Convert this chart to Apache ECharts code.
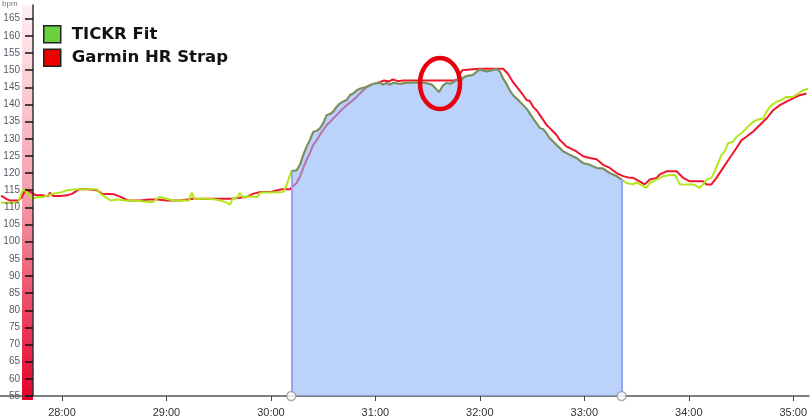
<!DOCTYPE html>
<html>
<head>
<meta charset="utf-8">
<script src="https://cdn.jsdelivr.net/npm/echarts@6/dist/echarts.min.js"></script>
<style>
  html, body { margin: 0; padding: 0; background: #fff; }
  #hr-chart { width: 810px; height: 418px; }
</style>
</head>
<body>
<div id="hr-chart"></div>
<script>
// time in seconds (27:24 .. 35:09), heart rate in bpm
var tickrFit = [
    [1645, 111.4], [1650, 111.3], [1655, 111.5], [1657, 114.5], [1658, 115.3], [1660, 114.3],
    [1663, 112.5], [1666, 113], [1669, 113], [1672, 113.5], [1675, 114], [1679, 114.3],
    [1683, 115], [1687, 115.2], [1690, 115.3], [1695, 115.3], [1700, 115.3], [1702, 114],
    [1705, 113], [1708, 112], [1712, 112.3], [1716, 112], [1721, 112], [1726, 111.8],
    [1732, 111.5], [1736, 113], [1740, 112.5], [1744, 112], [1748, 112], [1753, 112],
    [1754.5, 114.3], [1756, 112.5], [1760, 112.5], [1765, 112.5], [1768, 112.3], [1771, 112],
    [1774, 111.5], [1776.5, 110.8], [1778, 112.5], [1781, 113], [1782, 114.2], [1784, 113],
    [1788, 113.2], [1792, 113], [1794, 114.3], [1800, 114.3], [1807, 114.5], [1809, 116.5],
    [1811.7, 120.5], [1812.8, 121], [1814.8, 120.8], [1816.7, 122.4], [1818.6, 125.3],
    [1820.5, 127.7], [1822.4, 129.6], [1824.3, 132], [1826.3, 132.3], [1828.1, 133],
    [1830, 134.5], [1832, 136.9], [1833.9, 137.2], [1835.8, 137.9], [1837.7, 139.3],
    [1839.6, 140.3], [1841.5, 140.8], [1843.5, 141.3], [1845.4, 142.7], [1847.3, 143.2],
    [1849.2, 144.1], [1851.1, 144.6], [1855, 145.1], [1856.9, 145.6], [1858.8, 146],
    [1862.6, 146.3], [1864.5, 145.8], [1866.4, 146.3], [1868.3, 145.8], [1870.2, 146.3],
    [1874, 146], [1878, 146.3], [1882, 146.4], [1886, 146.5], [1889.4, 146.2], [1892.3, 145.8],
    [1894, 145], [1896.6, 143.6], [1898.9, 145.6], [1901, 146.3], [1903, 146], [1904.7, 146.5],
    [1907, 147.2], [1909, 146.8], [1910.5, 147.8], [1912.4, 148.3], [1916, 148.6], [1918, 149.5],
    [1920, 150.2], [1923.9, 149.6], [1925.8, 149.8], [1929.6, 150.3], [1931.5, 149.6],
    [1933.4, 147.5], [1935.3, 146], [1937.2, 144.1], [1939.1, 142.7], [1942, 141.3],
    [1944.9, 139.8], [1946.8, 138.8], [1948.7, 137.4], [1950.6, 135.9], [1952.6, 134.5],
    [1954.5, 133.1], [1956.4, 132.8], [1958.3, 131.6], [1960.2, 130.1], [1962.1, 129.2],
    [1964.1, 128.2], [1967.9, 126.3], [1971.7, 125.3], [1975.5, 124.4], [1979.3, 122.9],
    [1983.2, 122.4], [1987, 121.5], [1990.8, 121.3], [1994.7, 120], [1998.5, 119.1],
    [2001.4, 118.1], [2004.2, 117.1], [2008, 116.7], [2010, 117.3], [2013.8, 116.2],
    [2015.7, 115.7], [2017.6, 117.1], [2021.5, 118.1], [2023.4, 118.6], [2025.3, 119.1],
    [2029.1, 119.4], [2032, 119.4], [2033, 118.6], [2034.9, 116.7], [2038.7, 116.7],
    [2042.5, 116.7], [2046.3, 115.7], [2048.2, 116.7], [2050.2, 118.1], [2053, 118.6],
    [2054.9, 120.5], [2056.8, 122.9], [2058.8, 125.3], [2060.7, 126.3], [2062.6, 128.7],
    [2065.5, 129.2], [2067.4, 130.6], [2070.3, 131.6], [2073.1, 133.1], [2076, 134.5],
    [2078.9, 135.5], [2082.7, 135.9], [2084.6, 137.9], [2087.5, 139.8], [2090.4, 140.8],
    [2093.2, 141.3], [2096.1, 142.2], [2099.9, 142.2], [2102.8, 143.2], [2105.7, 144.1],
    [2108.5, 144.6]
];

var garminStrap = [
    [1645, 113.4], [1648, 112.5], [1650, 112], [1655, 112], [1657, 113], [1659, 115.2],
    [1662, 114.5], [1665, 113.5], [1669, 113.5], [1672, 113.2], [1673, 114.3], [1675, 113.3],
    [1679, 113.3], [1683, 113.5], [1686, 114], [1690, 115.3], [1695, 115.3], [1700, 115],
    [1703, 114], [1710, 113.8], [1714, 113], [1718, 112], [1725, 112], [1730, 112.3],
    [1735, 112.3], [1740, 112], [1748, 112], [1755, 112.5], [1762, 112.5], [1770, 112.5],
    [1777, 112.5], [1782, 112.8], [1786, 113], [1790, 114], [1794, 114.5], [1800, 114.5],
    [1806, 115.3], [1811, 115.3], [1812.8, 116.2], [1814.8, 117.1], [1816.7, 119],
    [1818.6, 121.5], [1820.5, 123.9], [1822.4, 125.8], [1824.3, 128.2], [1826.3, 129.6],
    [1828.1, 131.1], [1830, 132.5], [1832, 134], [1833.9, 134.9], [1835.8, 135.9],
    [1837.7, 136.9], [1839.6, 137.9], [1841.5, 138.8], [1843.5, 139.8], [1847.3, 141.3],
    [1849.2, 142.2], [1851.1, 143.2], [1853, 144.1], [1855, 145.1], [1858.8, 146],
    [1862.6, 146.5], [1865, 147], [1868, 146.7], [1870, 147.3], [1873, 146.8], [1876, 147],
    [1880, 147], [1885, 147], [1890, 147], [1895, 147], [1900, 147], [1905, 147],
    [1907, 147.2], [1908, 148.5], [1910, 150], [1914.3, 150.2], [1920, 150.4], [1933.4, 150.4],
    [1934.4, 150], [1936.2, 148.9], [1939.1, 146.5], [1942, 144.6], [1944.9, 142.7],
    [1946.8, 141.3], [1948.7, 141], [1950.6, 139.3], [1952.6, 138.3], [1954.5, 136.9],
    [1956.4, 135.5], [1958.3, 134], [1960.2, 133.1], [1962.1, 132.1], [1964.1, 131.1],
    [1966, 129.6], [1967.9, 128.7], [1969.8, 127.7], [1971.7, 127.3], [1975.5, 126.3],
    [1979.3, 124.9], [1983.2, 124.4], [1987, 124], [1990.8, 122.4], [1994.7, 121.5],
    [1998.5, 120], [2002.3, 119.1], [2006.1, 118.6], [2008, 118.6], [2011.8, 117.6],
    [2014.7, 116.7], [2017.6, 118.1], [2021.5, 118.6], [2023.4, 119.6], [2027.2, 120.5],
    [2033, 120.5], [2034.9, 119.6], [2036.8, 118.6], [2040.6, 117.6], [2048.2, 117.6],
    [2050.2, 116.7], [2053, 116.7], [2055.9, 118.6], [2059.7, 121.5], [2063.5, 124.4],
    [2067.4, 127.3], [2070.3, 129.6], [2073.1, 130.6], [2077, 132.1], [2080.8, 134],
    [2084.6, 135.9], [2088.4, 138.3], [2092.3, 139.8], [2096.1, 140.8], [2099.9, 141.8],
    [2103.7, 142.7], [2107.6, 143.2]
];

// selected range (30:11.7 .. 33:21.4)
var selStart = 1811.7;
var selEnd = 2001.4;

var xTicks = [1680, 1740, 1800, 1860, 1920, 1980, 2040, 2100];
var yTicks = [55, 60, 65, 70, 75, 80, 85, 90, 95, 100, 105, 110, 115, 120, 125, 130,
              135, 140, 145, 150, 155, 160, 165];

(function(){
    var chart = echarts.init(document.getElementById('hr-chart'));

    var selData = tickrFit.filter(function (p) {
        return p[0] >= selStart && p[0] <= selEnd;
    });
    var selFirst = selData[0], selLast = selData[selData.length - 1];

    function mmss(v) {
        var m = Math.floor(v / 60), s = Math.round(v % 60);
        return m + ':' + (s < 10 ? '0' + s : s);
    }

    var option = {
        animation: false,
        title: {
            text: 'bpm',
            left: 2,
            top: 0,
            padding: 0,
            textStyle: { fontSize: 8, color: '#777', fontWeight: 'normal' }
        },
        grid: { left: 0, right: 0, top: 5, bottom: 18 },
        legend: {
            orient: 'vertical',
            left: 43,
            top: 25,
            padding: 0,
            itemWidth: 17,
            itemHeight: 17,
            itemGap: 5,
            selectedMode: false,
            icon: 'rect',
            textStyle: {
                fontFamily: 'DejaVu Sans',
                fontSize: 16.5,
                fontWeight: 'bold',
                color: '#111',
                padding: [0, 0, 0, 6]
            },
            data: [
                { name: 'TICKR Fit', itemStyle: { color: '#6cd13f', borderColor: '#222', borderWidth: 1.5 } },
                { name: 'Garmin HR Strap', itemStyle: { color: '#ee0000', borderColor: '#222', borderWidth: 1.5 } }
            ]
        },
        graphic: [
            {
                type: 'rect',
                z: -1,
                shape: { x: 22, y: 5, width: 11, height: 395 },
                style: {
                    fill: new echarts.graphic.LinearGradient(0, 0, 0, 1, [
                        { offset: 0, color: '#fff0f3' },
                        { offset: 0.5, color: '#f49aa8' },
                        { offset: 1, color: '#e4002a' }
                    ])
                }
            },
            {
                type: 'ellipse',
                z: 20,
                shape: { cx: 440, cy: 83.5, rx: 20, ry: 25.5 },
                style: { fill: 'none', stroke: '#e8000f', lineWidth: 4.5 }
            }
        ],
        xAxis: {
            type: 'value',
            min: 1644.4,
            max: 2109,
            splitLine: { show: false },
            axisLine: { lineStyle: { color: '#555', width: 1.5 } },
            axisTick: { customValues: xTicks, length: 5, lineStyle: { color: '#444' } },
            axisLabel: {
                customValues: xTicks,
                margin: 11,
                fontSize: 11,
                color: '#333',
                formatter: mmss
            }
        },
        yAxis: [
            {
                type: 'value',
                min: 55,
                max: 169,
                offset: -33,
                z: 5,
                splitLine: { show: false },
                axisLine: { show: true, lineStyle: { color: '#333', width: 1.5 } },
                axisTick: { show: false },
                axisLabel: {
                    customValues: yTicks,
                    margin: 13,
                    fontSize: 10,
                    color: '#555c66'
                }
            },
            {
                // tick marks only, kept on top of the zone bar
                type: 'value',
                position: 'left',
                min: 55,
                max: 169,
                offset: -33,
                z: 10,
                splitLine: { show: false },
                axisLine: { show: false },
                axisLabel: { show: false },
                axisTick: {
                    show: true,
                    customValues: yTicks,
                    length: 8,
                    lineStyle: { color: '#111', width: 1.5 }
                }
            }
        ],
        series: [
            {
                name: 'Garmin HR Strap',
                type: 'line',
                symbol: 'none',
                z: 2,
                lineStyle: { color: '#f0142d', width: 2 },
                itemStyle: { color: '#f0142d' },
                data: garminStrap
            },
            {
                name: 'TICKR Fit',
                type: 'line',
                symbol: 'none',
                z: 3,
                lineStyle: { color: '#b2e61a', width: 2 },
                itemStyle: { color: '#b2e61a' },
                data: tickrFit
            },
            {
                name: 'selection',
                type: 'line',
                symbol: 'none',
                z: 4,
                lineStyle: { color: '#7b8c6b', width: 2 },
                areaStyle: { color: '#8db4f7', opacity: 0.6, origin: 'start' },
                data: selData,
                markLine: {
                    silent: true,
                    symbol: 'none',
                    label: { show: false },
                    lineStyle: { color: '#9aa3f0', width: 2, type: 'solid' },
                    data: [
                        [{ coord: [selFirst[0], 55] }, { coord: [selFirst[0], selFirst[1]] }],
                        [{ coord: [selLast[0], 55] }, { coord: [selLast[0], selLast[1]] }]
                    ]
                }
            },
            {
                name: 'handles',
                type: 'scatter',
                z: 6,
                symbolSize: 9,
                itemStyle: { color: '#fff', borderColor: '#999', borderWidth: 1.5 },
                data: [[selFirst[0], 55], [selLast[0], 55]]
            }
        ]
    };

    chart.setOption(option);
})();
</script>
</body>
</html>
